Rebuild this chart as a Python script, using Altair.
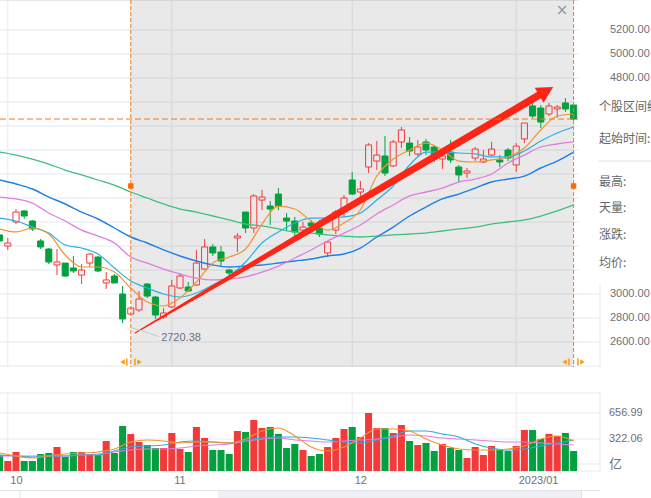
import altair as alt
import pandas as pd

# ---------------- data ----------------
day_index = list(range(71))
open_price = [3492, 3400, 3600, 3692, 3608, 3442, 3375, 3242, 3258, 3217,
              3158, 3258, 3308, 3092, 3150, 3000, 2833, 2867, 3083, 2975,
              2808, 2892, 3050, 3058, 3075, 3208, 3392, 3350, 3200, 3467,
              3683, 3550, 3783, 3733, 3833, 3633, 3608, 3533, 3592, 3550,
              3342, 3533, 3683, 3950, 3850, 4058, 4108, 4150, 4067, 4267,
              4258, 4167, 4267, 4225, 4125, 4183, 4058, 4008, 4133, 4100,
              4158, 4117, 4200, 4075, 4292, 4567, 4550, 4500, 4542, 4592, 4575]
high_price = [3500, 3467, 3708, 3700, 3617, 3458, 3383, 3375, 3258, 3317,
              3250, 3342, 3317, 3183, 3167, 3067, 2892, 3025, 3092, 2983,
              2883, 3117, 3175, 3100, 3367, 3458, 3417, 3400, 3208, 3508,
              3683, 3833, 3867, 3775, 3883, 3675, 3642, 3600, 3617, 3617,
              3442, 3700, 3825, 4017, 3942, 4258, 4275, 4317, 4283, 4392,
              4308, 4283, 4292, 4242, 4183, 4283, 4075, 4050, 4225, 4200,
              4267, 4158, 4217, 4258, 4425, 4600, 4575, 4592, 4575, 4633, 4575]
low_price = [3433, 3367, 3583, 3625, 3525, 3375, 3250, 3158, 3142, 3175,
             3083, 3225, 3183, 3042, 3092, 2758, 2825, 2850, 2967, 2792,
             2792, 2883, 3042, 3017, 3067, 3200, 3317, 3233, 3142, 3350,
             3508, 3508, 3700, 3575, 3700, 3533, 3483, 3517, 3533, 3475,
             3308, 3500, 3642, 3825, 3808, 4008, 4033, 3983, 4058, 4217,
             4150, 4150, 4158, 4100, 4042, 4092, 3933, 3967, 4108, 4092,
             4150, 4058, 4108, 4017, 4258, 4467, 4383, 4483, 4467, 4517, 4450]
close_price = [3442, 3425, 3683, 3650, 3542, 3392, 3267, 3267, 3150, 3192,
               3200, 3333, 3192, 3117, 3092, 2792, 2883, 2958, 2983, 2825,
               2842, 3067, 3150, 3025, 3258, 3392, 3342, 3275, 3175, 3483,
               3550, 3817, 3808, 3708, 3733, 3608, 3517, 3558, 3567, 3500,
               3433, 3683, 3800, 3833, 3875, 4242, 4158, 4008, 4267, 4367,
               4192, 4225, 4200, 4125, 4150, 4117, 3992, 4025, 4208, 4125,
               4208, 4100, 4133, 4233, 4425, 4483, 4433, 4567, 4558, 4542, 4458]
volume_yi = [116, 39, 155, 39, 39, 129, 142, 219, 90, 155,
             155, 129, 116, 296, 142, 490, 387, 283, 245, 206,
             206, 399, 193, 155, 477, 335, 180, 180, 129, 425,
             412, 567, 464, 477, 387, 206, 258, 180, 103, 129,
             219, 335, 451, 477, 348, 656.99, 464, 464, 399, 502,
             296, 245, 271, 168, 258, 206, 180, 77, 219, 116,
             232, 193, 168, 232, 438, 438, 322, 387, 361, 399, 168]

ma_index = list(range(0, 71, 2))
ma5 = [3542, 3517, 3550, 3500, 3325, 3225, 3225, 3183, 3050, 2933, 2900, 2967,
       3100, 3258, 3308, 3375, 3583, 3733, 3708, 3608, 3533, 3592, 3700, 3983,
       4125, 4200, 4258, 4200, 4108, 4100, 4117, 4142, 4217, 4367, 4483, 4500]
ma10 = [3633, 3608, 3558, 3508, 3408, 3383, 3333, 3217, 3108, 3050, 3000, 2975,
        3008, 3075, 3150, 3267, 3425, 3517, 3592, 3633, 3633, 3642, 3675, 3783,
        3900, 4075, 4183, 4183, 4175, 4167, 4142, 4142, 4192, 4275, 4342, 4392]
ma20 = [3808, 3792, 3758, 3675, 3608, 3533, 3483, 3425, 3308, 3258, 3208, 3167,
        3133, 3117, 3125, 3142, 3183, 3233, 3300, 3367, 3442, 3508, 3575, 3667,
        3742, 3817, 3850, 3883, 3933, 3958, 4000, 4092, 4158, 4225, 4250, 4267]
ma30 = [3950, 3917, 3875, 3808, 3750, 3683, 3625, 3550, 3475, 3425, 3367, 3317,
        3275, 3242, 3225, 3233, 3242, 3258, 3275, 3292, 3317, 3333, 3383, 3475,
        3558, 3650, 3725, 3792, 3833, 3883, 3933, 3958, 3983, 4050, 4108, 4183]
ma60 = [4183, 4158, 4125, 4083, 4033, 3992, 3950, 3908, 3850, 3800, 3750, 3708,
        3683, 3650, 3617, 3583, 3567, 3542, 3517, 3508, 3492, 3483, 3475, 3483,
        3492, 3500, 3508, 3525, 3542, 3558, 3583, 3600, 3617, 3650, 3692, 3742]
vol_ma5 = [142, 103, 77, 103, 129, 142, 155, 193, 283, 309, 296, 271,
           283, 283, 271, 322, 425, 464, 361, 219, 168, 219, 335, 451,
           451, 425, 322, 245, 193, 180, 180, 193, 232, 322, 361, 296]
vol_ma10 = [116, 103, 90, 103, 103, 116, 116, 168, 219, 232, 245, 283,
            296, 283, 271, 309, 335, 348, 348, 335, 309, 283, 271, 309,
            361, 425, 425, 387, 348, 258, 206, 180, 193, 232, 271, 309]
vol_ma20 = [103, 103, 103, 103, 103, 116, 129, 155, 180, 193, 193, 206,
            232, 245, 258, 296, 322, 335, 309, 296, 283, 296, 309, 322,
            348, 374, 361, 335, 322, 309, 296, 283, 283, 271, 258, 245]

month_start_index = [1, 21, 43, 63]
month_labels = ["10", "11", "12", "2023/01"]
price_tick_values = [5200, 5000, 4800, 3000, 2800, 2600]
price_grid_values = [2400, 2600, 2800, 3000, 3200, 3400, 3600, 3800, 4000,
                     4200, 4400, 4600, 4800, 5000, 5200]
vol_tick_values = [656.99, 322.06, 0]
vol_tick_labels = ["656.99", "322.06", "亿"]
vol_grid_values = [914.5, 656.99, 322.06, 0, -90.2]

interval_bounds = [16, 70]
interval_low_value = 2720.38
interval_low_text = "2720.38"
leader_index = [16.05, 19.5]
leader_price = [2720.38, 2645]
low_label_pos = [19.7, 2633]

arrow_index = [16.51, 24.44, 31.76, 40.29, 66.02]
arrow_price = [2675, 2994, 3288, 3632, 4666]
arrow_width = [1.0, 3.5, 5.0, 6.5, 7.5]
arrow_head_index = [66.44]
arrow_head_price = [4682]

panel_texts = ["个股区间统计", "起始时间:", "最高:", "天量:", "涨跌:", "均价:"]
panel_text_y = [107, 139, 182, 208, 235, 263]

# ---------------- styling ----------------
RED = "#f23a3a"
GREEN = "#04a03f"
ORANGE = "#f07a1f"
ARROW = "#ff2516"
GRID = "#e6eaef"
LABEL = "#6E7079"
NUM_FONT = "Liberation Sans"
CJK_FONT = "Noto Sans CJK SC"

X_DOM = [0.0488, 73.22]
P_DOM = [2391.7, 5450]
V_DOM = [-90.2, 914.5]


def X(f):
    return alt.X(f + ":Q", scale=alt.Scale(domain=X_DOM, nice=False, zero=False), axis=None)


def PY(f):
    return alt.Y(f + ":Q", scale=alt.Scale(domain=P_DOM, range=[367, 0], nice=False, zero=False), axis=None)


def VY(f):
    return alt.Y(f + ":Q", scale=alt.Scale(domain=V_DOM, range=[471, 393], nice=False, zero=False), axis=None)


dummy = pd.DataFrame({"d": [0]})

cdf = pd.DataFrame({"i": day_index, "o": open_price, "h": high_price,
                    "l": low_price, "c": close_price, "v": volume_yi})
cdf["top"] = cdf[["o", "c"]].max(axis=1)
cdf["bot"] = cdf[["o", "c"]].min(axis=1)
cdf["xl"] = cdf["i"] - 0.37
cdf["xr"] = cdf["i"] + 0.37
cdf["vxl"] = cdf["i"] - 0.43
cdf["vxr"] = cdf["i"] + 0.43
cdf["vbase"] = V_DOM[0]

up_color = alt.condition("datum.c >= datum.o", alt.value(RED), alt.value(GREEN))

layers = []

# grid lines
layers.append(alt.Chart(pd.DataFrame({"p": price_grid_values})).mark_rule(color=GRID, strokeWidth=1)
              .encode(y=PY("p"), x=alt.value(0), x2=alt.value(600)))
layers.append(alt.Chart(dummy).mark_rule(color=GRID, strokeWidth=1)
              .encode(y=alt.value(0.5), x=alt.value(0), x2=alt.value(600)))
layers.append(alt.Chart(pd.DataFrame({"i": month_start_index})).mark_rule(color=GRID, strokeWidth=1)
              .encode(x=X("i"), y=alt.value(0), y2=alt.value(367)))
layers.append(alt.Chart(pd.DataFrame({"v": vol_grid_values})).mark_rule(color=GRID, strokeWidth=1)
              .encode(y=VY("v"), x=alt.value(0), x2=alt.value(600)))
layers.append(alt.Chart(pd.DataFrame({"i": month_start_index})).mark_rule(color=GRID, strokeWidth=1)
              .encode(x=X("i"), y=alt.value(393), y2=alt.value(471)))
layers.append(alt.Chart(dummy).mark_rule(color=GRID, strokeWidth=1)
              .encode(x=alt.value(600), y=alt.value(283), y2=alt.value(367)))
layers.append(alt.Chart(dummy).mark_rule(color=GRID, strokeWidth=1)
              .encode(x=alt.value(600), y=alt.value(393), y2=alt.value(471)))

# selected interval shading
sdf = pd.DataFrame({"a": [interval_bounds[0]], "b": [interval_bounds[1]]})
layers.append(alt.Chart(sdf).mark_rect(color="#000000", opacity=0.085)
              .encode(x=X("a"), x2=alt.X2("b"), y=alt.value(0), y2=alt.value(367)))

# candles
layers.append(alt.Chart(cdf).mark_rule(strokeWidth=1)
              .encode(x=X("i"), y=PY("h"), y2=alt.Y2("top"), color=up_color))
layers.append(alt.Chart(cdf).mark_rule(strokeWidth=1)
              .encode(x=X("i"), y=PY("bot"), y2=alt.Y2("l"), color=up_color))
layers.append(alt.Chart(cdf).mark_rect(strokeWidth=1)
              .encode(x=X("xl"), x2=alt.X2("xr"), y=PY("top"), y2=alt.Y2("bot"),
                      fill=up_color, stroke=up_color,
                      fillOpacity=alt.condition("datum.c >= datum.o", alt.value(0), alt.value(1))))

# moving averages (price)
for vals, col, w in [(ma60, "#3cc07e", 1.3), (ma30, "#1f7fe6", 1.4), (ma20, "#e07de0", 1.3),
                     (ma10, "#27b2e2", 1.2), (ma5, "#f1952f", 1.2)]:
    mdf = pd.DataFrame({"i": ma_index, "p": vals})
    layers.append(alt.Chart(mdf).mark_line(color=col, strokeWidth=w, interpolate="monotone")
                  .encode(x=X("i"), y=PY("p")))

# trend arrow
adf = pd.DataFrame({"i": arrow_index, "p": arrow_price, "w": arrow_width})
layers.append(alt.Chart(adf).mark_trail(color=ARROW)
              .encode(x=X("i"), y=PY("p"), size=alt.Size("w:Q", scale=None, legend=None)))
hdf = pd.DataFrame({"i": arrow_head_index, "p": arrow_head_price})
layers.append(alt.Chart(hdf).mark_point(shape="M0,-1L0.85,0.6L-0.85,0.6Z", size=420, angle=59.5,
                                        filled=True, color=ARROW, opacity=1, strokeWidth=0)
              .encode(x=X("i"), y=PY("p")))

# interval markers
layers.append(alt.Chart(pd.DataFrame({"i": interval_bounds})).mark_rule(color=ORANGE, strokeDash=[4, 2], strokeWidth=1)
              .encode(x=X("i"), y=alt.value(0), y2=alt.value(367)))
layers.append(alt.Chart(pd.DataFrame({"p": [close_price[-1]]})).mark_rule(color=ORANGE, strokeDash=[6, 3], strokeWidth=1)
              .encode(y=PY("p"), x=alt.value(0), x2=alt.value(578)))
layers.append(alt.Chart(pd.DataFrame({"i": interval_bounds})).mark_square(size=30, color="#ff6a00", opacity=1, filled=True)
              .encode(x=X("i"), y=alt.value(186)))
for px, shp in [(122.5, "triangle-left"), (139.5, "triangle-right"), (564.5, "triangle-left"), (582.5, "triangle-right")]:
    layers.append(alt.Chart(dummy).mark_point(shape=shp, size=28, filled=True, color="#f5a01c", opacity=1)
                  .encode(x=alt.value(px), y=alt.value(362)))
for px in [126.8, 135.0, 569.0, 578.0]:
    layers.append(alt.Chart(dummy).mark_rule(color="#f5a01c", strokeWidth=1.6)
                  .encode(x=alt.value(px), y=alt.value(358.5), y2=alt.value(365.5)))

# low label
ldf = pd.DataFrame({"i": leader_index, "p": leader_price})
layers.append(alt.Chart(ldf).mark_line(color="#c8c8c8", strokeWidth=1).encode(x=X("i"), y=PY("p")))
layers.append(alt.Chart(pd.DataFrame({"i": [low_label_pos[0]], "p": [low_label_pos[1]], "t": [interval_low_text]}))
              .mark_text(align="left", baseline="middle", fontSize=11, font=NUM_FONT, color=LABEL)
              .encode(x=X("i"), y=PY("p"), text="t:N"))

# close "x"
layers.append(alt.Chart(pd.DataFrame({"t": ["×"]})).mark_text(fontSize=15, color="#8f98a8", font="DejaVu Sans")
              .encode(x=alt.value(562), y=alt.value(10), text="t:N"))

# volume bars and averages
layers.append(alt.Chart(cdf).mark_rect()
              .encode(x=X("vxl"), x2=alt.X2("vxr"), y=VY("v"), y2=alt.Y2("vbase"), fill=up_color))
for vals, col in [(vol_ma20, "#e07de0"), (vol_ma10, "#27b2e2"), (vol_ma5, "#f1952f")]:
    vdf = pd.DataFrame({"i": ma_index, "v": vals})
    layers.append(alt.Chart(vdf).mark_line(color=col, strokeWidth=1.1, interpolate="monotone")
                  .encode(x=X("i"), y=VY("v")))

# right-hand panel and axis labels
layers.append(alt.Chart(dummy).mark_rect(color="white", opacity=1)
              .encode(x=alt.value(579), x2=alt.value(651), y=alt.value(0), y2=alt.value(283)))
layers.append(alt.Chart(pd.DataFrame({"p": price_tick_values, "t": [f"{v:.2f}" for v in price_tick_values]}))
              .mark_text(align="left", baseline="middle", fontSize=11, font=NUM_FONT, color=LABEL)
              .encode(x=alt.value(610), y=PY("p"), text="t:N"))
layers.append(alt.Chart(dummy).mark_rect(color="white", opacity=1)
              .encode(x=alt.value(598), x2=alt.value(651), y=alt.value(83), y2=alt.value(283)))
layers.append(alt.Chart(pd.DataFrame({"t": panel_texts, "y": panel_text_y}))
              .mark_text(align="left", baseline="middle", fontSize=12, font=CJK_FONT, color="#666666")
              .encode(x=alt.value(599), y=alt.Y("y:Q", scale=None, axis=None), text="t:N"))
layers.append(alt.Chart(dummy).mark_rule(color="#e2e2e2", strokeWidth=1)
              .encode(y=alt.value(161), x=alt.value(598), x2=alt.value(651)))
vt = pd.DataFrame({"v": vol_tick_values, "t": vol_tick_labels})
layers.append(alt.Chart(vt).transform_filter("datum.t != '亿'")
              .mark_text(align="left", baseline="middle", fontSize=11, font=NUM_FONT, color=LABEL)
              .encode(x=alt.value(609), y=VY("v"), text="t:N"))
layers.append(alt.Chart(vt).transform_filter("datum.t == '亿'")
              .mark_text(align="left", baseline="middle", fontSize=13, font=CJK_FONT, color=LABEL)
              .encode(x=alt.value(609), y=VY("v"), text="t:N"))

# month labels
layers.append(alt.Chart(pd.DataFrame({"i": month_start_index, "t": month_labels}))
              .mark_text(align="left", baseline="middle", fontSize=11, font=NUM_FONT, color=LABEL, dx=2.5)
              .encode(x=X("i"), y=alt.value(481), text="t:N"))

# bottom slider strip
layers.append(alt.Chart(dummy).mark_rect(color="#eef0f4", opacity=1)
              .encode(x=alt.value(218), x2=alt.value(581), y=alt.value(490.5), y2=alt.value(498)))
layers.append(alt.Chart(dummy).mark_rule(color="#dfe3e9", strokeWidth=1)
              .encode(y=alt.value(490.5), x=alt.value(0), x2=alt.value(600)))
for px in [20, 581.5]:
    layers.append(alt.Chart(dummy).mark_rule(color="#dfe3e9", strokeWidth=1)
                  .encode(x=alt.value(px), y=alt.value(490.5), y2=alt.value(498)))

chart = (alt.layer(*layers)
         .resolve_scale(y="independent")
         .properties(width=600, height=471,
                     padding={"left": 0, "right": 51, "top": 0, "bottom": 27},
                     autosize=alt.AutoSizeParams(type="none"),
                     background="white")
         .configure_view(stroke=None))

chart.save("out.html", embed_options={"renderer": "svg", "actions": False})
